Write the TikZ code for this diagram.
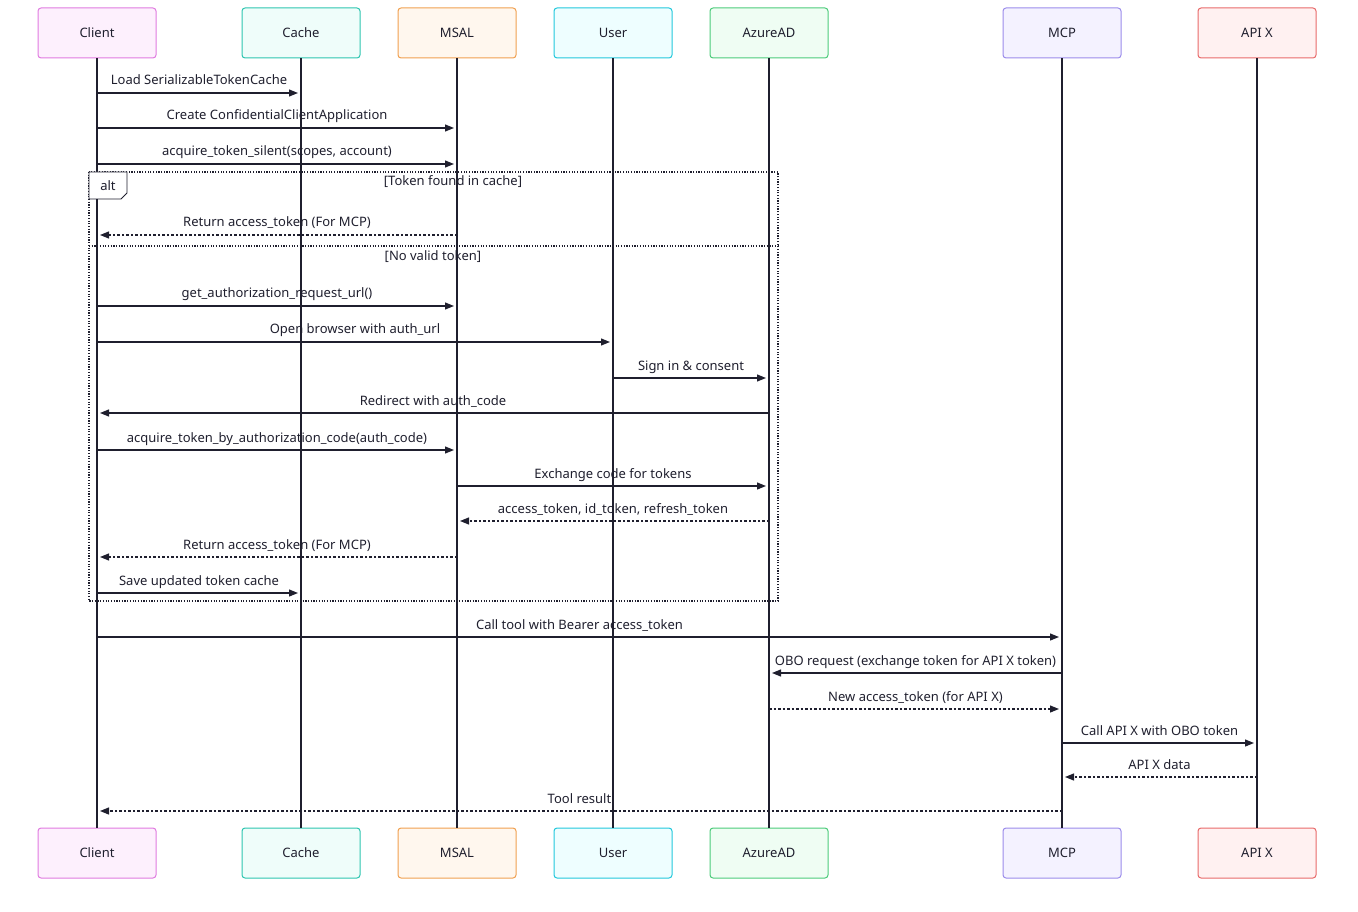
\documentclass[tikz,border=0pt]{standalone}
\usepackage{fontspec}
\setmainfont{Noto Sans}
\usetikzlibrary{arrows.meta,calc}
\definecolor{ink}{HTML}{1F1F2E}
\definecolor{fA}{HTML}{FDF0FD}\definecolor{sA}{HTML}{E07BE0}
\definecolor{fB}{HTML}{EFFDFA}\definecolor{sB}{HTML}{2DC5B0}
\definecolor{fC}{HTML}{FFF7EE}\definecolor{sC}{HTML}{F0A050}
\definecolor{fD}{HTML}{EEFEFF}\definecolor{sD}{HTML}{22C8DC}
\definecolor{fE}{HTML}{EFFDF3}\definecolor{sE}{HTML}{4CCB7A}
\definecolor{fF}{HTML}{F4F2FF}\definecolor{sF}{HTML}{9B8CEB}
\definecolor{fG}{HTML}{FFF1F1}\definecolor{sG}{HTML}{E86A6A}
\tikzset{
 part/.style={draw=#1, line width=1pt, rounded corners=3pt, minimum width=118pt, minimum height=50pt, inner sep=0pt, font=\fontsize{13}{15}\selectfont, text=ink},
 life/.style={draw=ink, line width=1.3pt},
 msg/.style={draw=ink, line width=1.2pt, -{Triangle[length=9pt,width=7pt]}, shorten >=3pt},
 ret/.style={msg, dash pattern=on 2.5pt off 2pt},
 lab/.style={font=\fontsize{13}{15}\selectfont, text=ink, inner sep=0pt},
 frame/.style={draw=ink, line width=1.2pt, dash pattern=on 1.2pt off 1.5pt}
}
\newcommand{\mymsg}[5]{%
 \coordinate (s#3) at (#1-t.south |- 0,#3);
 \coordinate (e#3) at (#2-t.south |- 0,#3);
 \draw[#5] (s#3) -- (e#3);
 \node[lab, anchor=base] at ($(s#3)!0.5!(e#3)+(0,-8)$) {#4};}
\begin{document}
\begin{tikzpicture}[x=1pt,y=-1pt]
\useasboundingbox (0,0) rectangle (1358,912);
\foreach \n/\t/\x/\c in {Client/Client/97/A, Cache/Cache/301/B, MSAL/MSAL/457/C, User/User/613/D, AzureAD/AzureAD/769/E, MCP/MCP/1062/F, APIX/API X/1257/G}{
 \node[part=s\c, fill=f\c] (\n-t) at (\x,33) {\t};
 \node[part=s\c, fill=f\c] (\n-b) at (\x,853) {\t};
 \draw[life] (\n-t.south) -- (\n-b.north);
}
\draw[frame] (89,172) rectangle (778,601);
\draw[frame] (89,246) -- (778,246);
\draw[draw=ink, line width=0.8pt, fill=white] (89,172) -- (127,172) -- (127,193) -- (121,199) -- (89,199) -- cycle;
\node[lab] (altlab) at (108,186) {alt};
\node[lab] (g1) at (453,182) {[Token found in cache]};
\node[lab] (g2) at (433,257) {[No valid token]};
\mymsg{Client}{Cache}{93}{Load SerializableTokenCache}{msg}
\mymsg{Client}{MSAL}{128}{Create ConfidentialClientApplication}{msg}
\mymsg{Client}{MSAL}{164}{acquire\_token\_silent(scopes, account)}{msg}
\mymsg{MSAL}{Client}{235}{Return access\_token (For MCP)}{ret}
\mymsg{Client}{MSAL}{306}{get\_authorization\_request\_url()}{msg}
\mymsg{Client}{User}{342}{Open browser with auth\_url}{msg}
\mymsg{User}{AzureAD}{378}{Sign in \& consent}{msg}
\mymsg{AzureAD}{Client}{413}{Redirect with auth\_code}{msg}
\mymsg{Client}{MSAL}{450}{acquire\_token\_by\_authorization\_code(auth\_code)}{msg}
\mymsg{MSAL}{AzureAD}{486}{Exchange code for tokens}{msg}
\mymsg{AzureAD}{MSAL}{521}{access\_token, id\_token, refresh\_token}{ret}
\mymsg{MSAL}{Client}{557}{Return access\_token (For MCP)}{ret}
\mymsg{Client}{Cache}{593}{Save updated token cache}{msg}
\mymsg{Client}{MCP}{637}{Call tool with Bearer access\_token}{msg}
\mymsg{MCP}{AzureAD}{673}{OBO request (exchange token for API X token)}{msg}
\mymsg{AzureAD}{MCP}{709}{New access\_token (for API X)}{ret}
\mymsg{MCP}{APIX}{743}{Call API X with OBO token}{msg}
\mymsg{APIX}{MCP}{777}{API X data}{ret}
\mymsg{MCP}{Client}{811}{Tool result}{ret}
\end{tikzpicture}
\end{document}
